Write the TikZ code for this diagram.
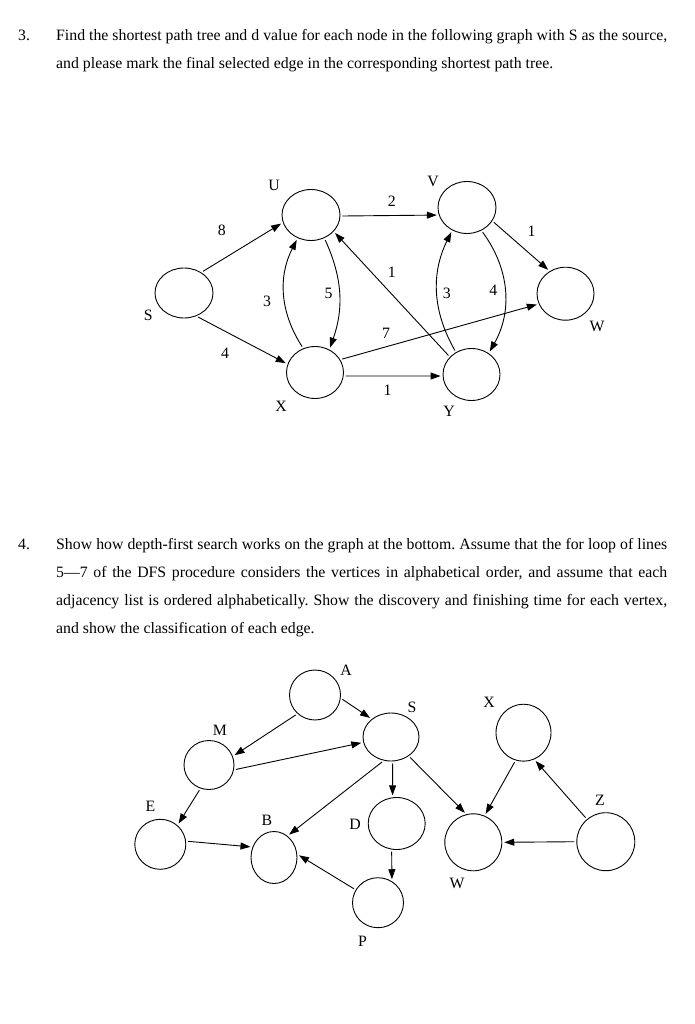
\documentclass[tikz,border=0pt]{standalone}
\usepackage{fontspec}
\setmainfont{Liberation Serif}
\usetikzlibrary{arrows.meta,shapes.geometric}
\frenchspacing

\begin{document}
\begin{tikzpicture}[x=1pt, y=-1pt,
        vertex/.style={ellipse, draw=black, line width=0.9pt, inner sep=0pt},
        arc/.style={-{Triangle[length=10pt, width=7pt]}, line width=0.9pt, shorten <=2pt, shorten >=2pt},
        weight/.style={font=\fontsize{15.8}{18}\selectfont, inner sep=0pt},
        vname/.style={weight},
        para/.style={font=\fontsize{15.8}{28}\selectfont, text width=611pt, align=justify, inner sep=0pt, anchor=base west},
        qnum/.style={font=\fontsize{15.8}{18}\selectfont, inner sep=0pt, anchor=base west},
    ]
        \useasboundingbox (0,0) rectangle (695,1024);

        % Question 3 text
        \node[qnum] (q3) at (18,40.7) {3.};
        \node[para] (t3) at (56,40.7) {Find the shortest path tree and d value for each node in the following graph with S as the source,\linebreak
            and please mark the final selected edge in the corresponding shortest path tree.};

        % Shortest path graph
        \foreach \n/\x/\y/\w/\h in {S/184/293/58/50, U/311/215/58/51, V/467/207.5/58/52,
                W/565.5/293.7/57/53, X/315/372.5/57/52, Y/471.5/374.5/57/52} {
            \node[vertex, minimum width=\w, minimum height=\h] (\n) at (\x,\y) {};
        }
        \foreach \n/\x/\y in {S/148.3/315, U/274/185, V/433/181, W/597/326, X/281/406.7, Y/449/411} {
            \node[vname] (l\n) at (\x,\y) {\n};
        }
        \foreach \a/\b in {S.50/U.195, S.298/X.163, U.-2/V.195, V.-28/W.125,
                Y.141/U.-36, X.27/W.201, X.-7/Y.183} {
            \draw[arc] (\a) -- (\b);
        }
        \draw[arc] (X.116) to[bend left=30] (U.240);
        \draw[arc] (U.300) to[bend left=22] (X.58);
        \draw[arc] (Y.125) to[bend left=28] (V.237);
        \draw[arc] (V.-58) to[bend left=33] (Y.51);

        % Edge weights
        \foreach \n/\x/\y/\t in {su/221.7/230/8, sx/225/353.3/4, uv/391.7/201/2, vw/531.5/231.7/1,
                xu/267/301.7/3, ux/328.5/293.3/5, yu/391.7/272.5/1, yv/446.7/293.3/3,
                vy/493.3/290.5/4, xw/386/333/7, xy/387.5/390/1} {
            \node[weight] (w\n) at (\x,\y) {\t};
        }

        % Question 4 text
        \node[qnum] (q4) at (18,549) {4.};
        \node[para] (t4) at (56,549) {Show how depth-first search works on the graph at the bottom. Assume that the for loop of lines\linebreak
            5—7 of the DFS procedure considers the vertices in alphabetical order, and assume that each\linebreak
            adjacency list is ordered alphabetically. Show the discovery and finishing time for each vertex,\linebreak
            and show the classification of each edge.};

        % DFS graph
        \foreach \n/\x/\y/\w/\h in {A/315/695/51/50, S/391/737/56/48, M/209/765/50/49,
                E/160.3/844.3/51/50, B/274/857.5/46/52, D/396.7/823.5/57/52, P/378/902.7/51/50,
                W/473.3/842.3/57/57, X/523.5/732.7/55/57, Z/605.8/841.7/58/58} {
            \node[vertex, minimum width=\w, minimum height=\h] (d\n) at (\x,\y) {};
        }
        \foreach \n/\x/\y in {A/346/670, S/412/707.3, M/220/730, E/150.5/806.7, B/267/820.7,
                D/355/824, P/362.5/941.7, W/457/883.3, X/489/702.5, Z/600/800} {
            \node[vname] (ld\n) at (\x,\y) {\n};
        }
        \foreach \a/\b in {dA.-7/dS.137, dA.227/dM.20, dM.-11/dS.191, dM.250/dE.48,
                dE.7/dB.154, dS.253/dB.58, dS.-86/dD.99, dS.-47/dW.104, dD.259/dP.57,
                dP.150/dB.8, dX.254/dW.67, dZ.130/dX.-68, dZ.180/dW.0} {
            \draw[arc] (\a) -- (\b);
        }
    \end{tikzpicture}
\end{document}
